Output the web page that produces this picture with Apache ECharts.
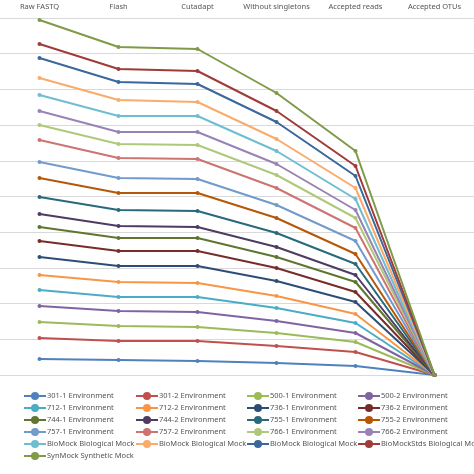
<!DOCTYPE html>
<html><head><meta charset="utf-8">
<script src="https://cdn.jsdelivr.net/npm/echarts@6/dist/echarts.min.js"></script>
<style>html,body{margin:0;padding:0;background:#fff}#c{width:474px;height:474px}</style>
</head><body><div id="c"></div>
<script>
const categories = ['Raw FASTQ','Flash','Cutadapt','Without singletons','Accepted reads','Accepted OTUs'];
const names = ['301-1 Environment','301-2 Environment','500-1 Environment','500-2 Environment',
'712-1 Environment','712-2 Environment','736-1 Environment','736-2 Environment',
'744-1 Environment','744-2 Environment','755-1 Environment','755-2 Environment',
'757-1 Environment','757-2 Environment','766-1 Environment','766-2 Environment',
'BioMock Biological Mock','BioMock Biological Mock\u200b','BioMock Biological Mock\u200b\u200b','BioMockStds Biological Mock',
'SynMock Synthetic Mock'];
const colors = ['#4F81BD','#C0504D','#9BBB59','#8064A2','#4BACC6','#F79646','#2C4D75','#772C2A',
'#5F7530','#4D3B62','#276A7C','#B65708','#729ACA','#CD7371','#AFC97A','#9983B5',
'#6FBDD1','#F9AB6B','#3A679C','#9F3B38','#7F9A48'];
const s301_1 = [16,15,14,12,9,0];
const s301_2 = [37,34,34,29,23,0];
const s500_1 = [53,49,48,42,33,0];
const s500_2 = [69,64,63,54,42,0];
const s712_1 = [85,78,78,67,52,0];
const s712_2 = [100,93,92,79,61,0];
const s736_1 = [118,109,109,94,73,0];
const s736_2 = [134,124,124,107,83,0];
const s744_1 = [148,137,137,118,93,0];
const s744_2 = [161,149,148,128,100,0];
const s755_1 = [178,165,164,142,111,0];
const s755_2 = [197,182,182,157,121,0];
const s757_1 = [213,197,196,170,134,0];
const s757_2 = [235,217,216,187,147,0];
const s766_1 = [250,231,230,200,157,0];
const s766_2 = [264,243,243,211,165,0];
const bio1 = [280,259,259,224,176,0];
const bio2 = [297,275,273,236,187,0];
const bio3 = [317,293,291,253,199,0];
const bioStds = [331,306,304,264,209,0];
const synMock = [355,328,326,282,224,0];
const allData = [s301_1,s301_2,s500_1,s500_2,s712_1,s712_2,s736_1,s736_2,s744_1,s744_2,
s755_1,s755_2,s757_1,s757_2,s766_1,s766_2,bio1,bio2,bio3,bioStds,synMock];

const series = names.map((n,i)=>({
  name:n,type:'line',data:allData[i],symbol:'circle',symbolSize:4,
  lineStyle:{width:2,color:colors[i]},itemStyle:{color:colors[i]},z:i
}));
const colX=[18,130,241,352];
const legends=colX.map((x,c)=>({
  orient:'vertical',left:x,top:387,itemGap:4,itemWidth:22,itemHeight:10,
  data:names.filter((_,i)=>i%4===c),
  textStyle:{fontFamily:'Noto Sans',fontSize:7.5,color:'#555',padding:[0,0,0,-4]},
  formatter:n=>n.replace(/\u200b/g,''),
  selectedMode:false
}));
const chart=echarts.init(document.getElementById('c'));
chart.setOption({
  animation:false,
  grid:{left:-5,width:522,top:18,height:357},
  legend:legends,
  xAxis:{type:'category',data:categories,position:'top',boundaryGap:true,
    axisLine:{show:true,lineStyle:{color:'#d9d9d9'}},axisTick:{show:false},
    axisLabel:{fontFamily:'Noto Sans',fontSize:7.5,color:'#555',interval:0,margin:7}},
  yAxis:{type:'value',min:0,max:357,interval:35.7,
    axisLabel:{show:false},axisLine:{show:false},axisTick:{show:false},
    splitLine:{lineStyle:{color:'#d9d9d9'}}},
  series:series
});
</script></body></html>
